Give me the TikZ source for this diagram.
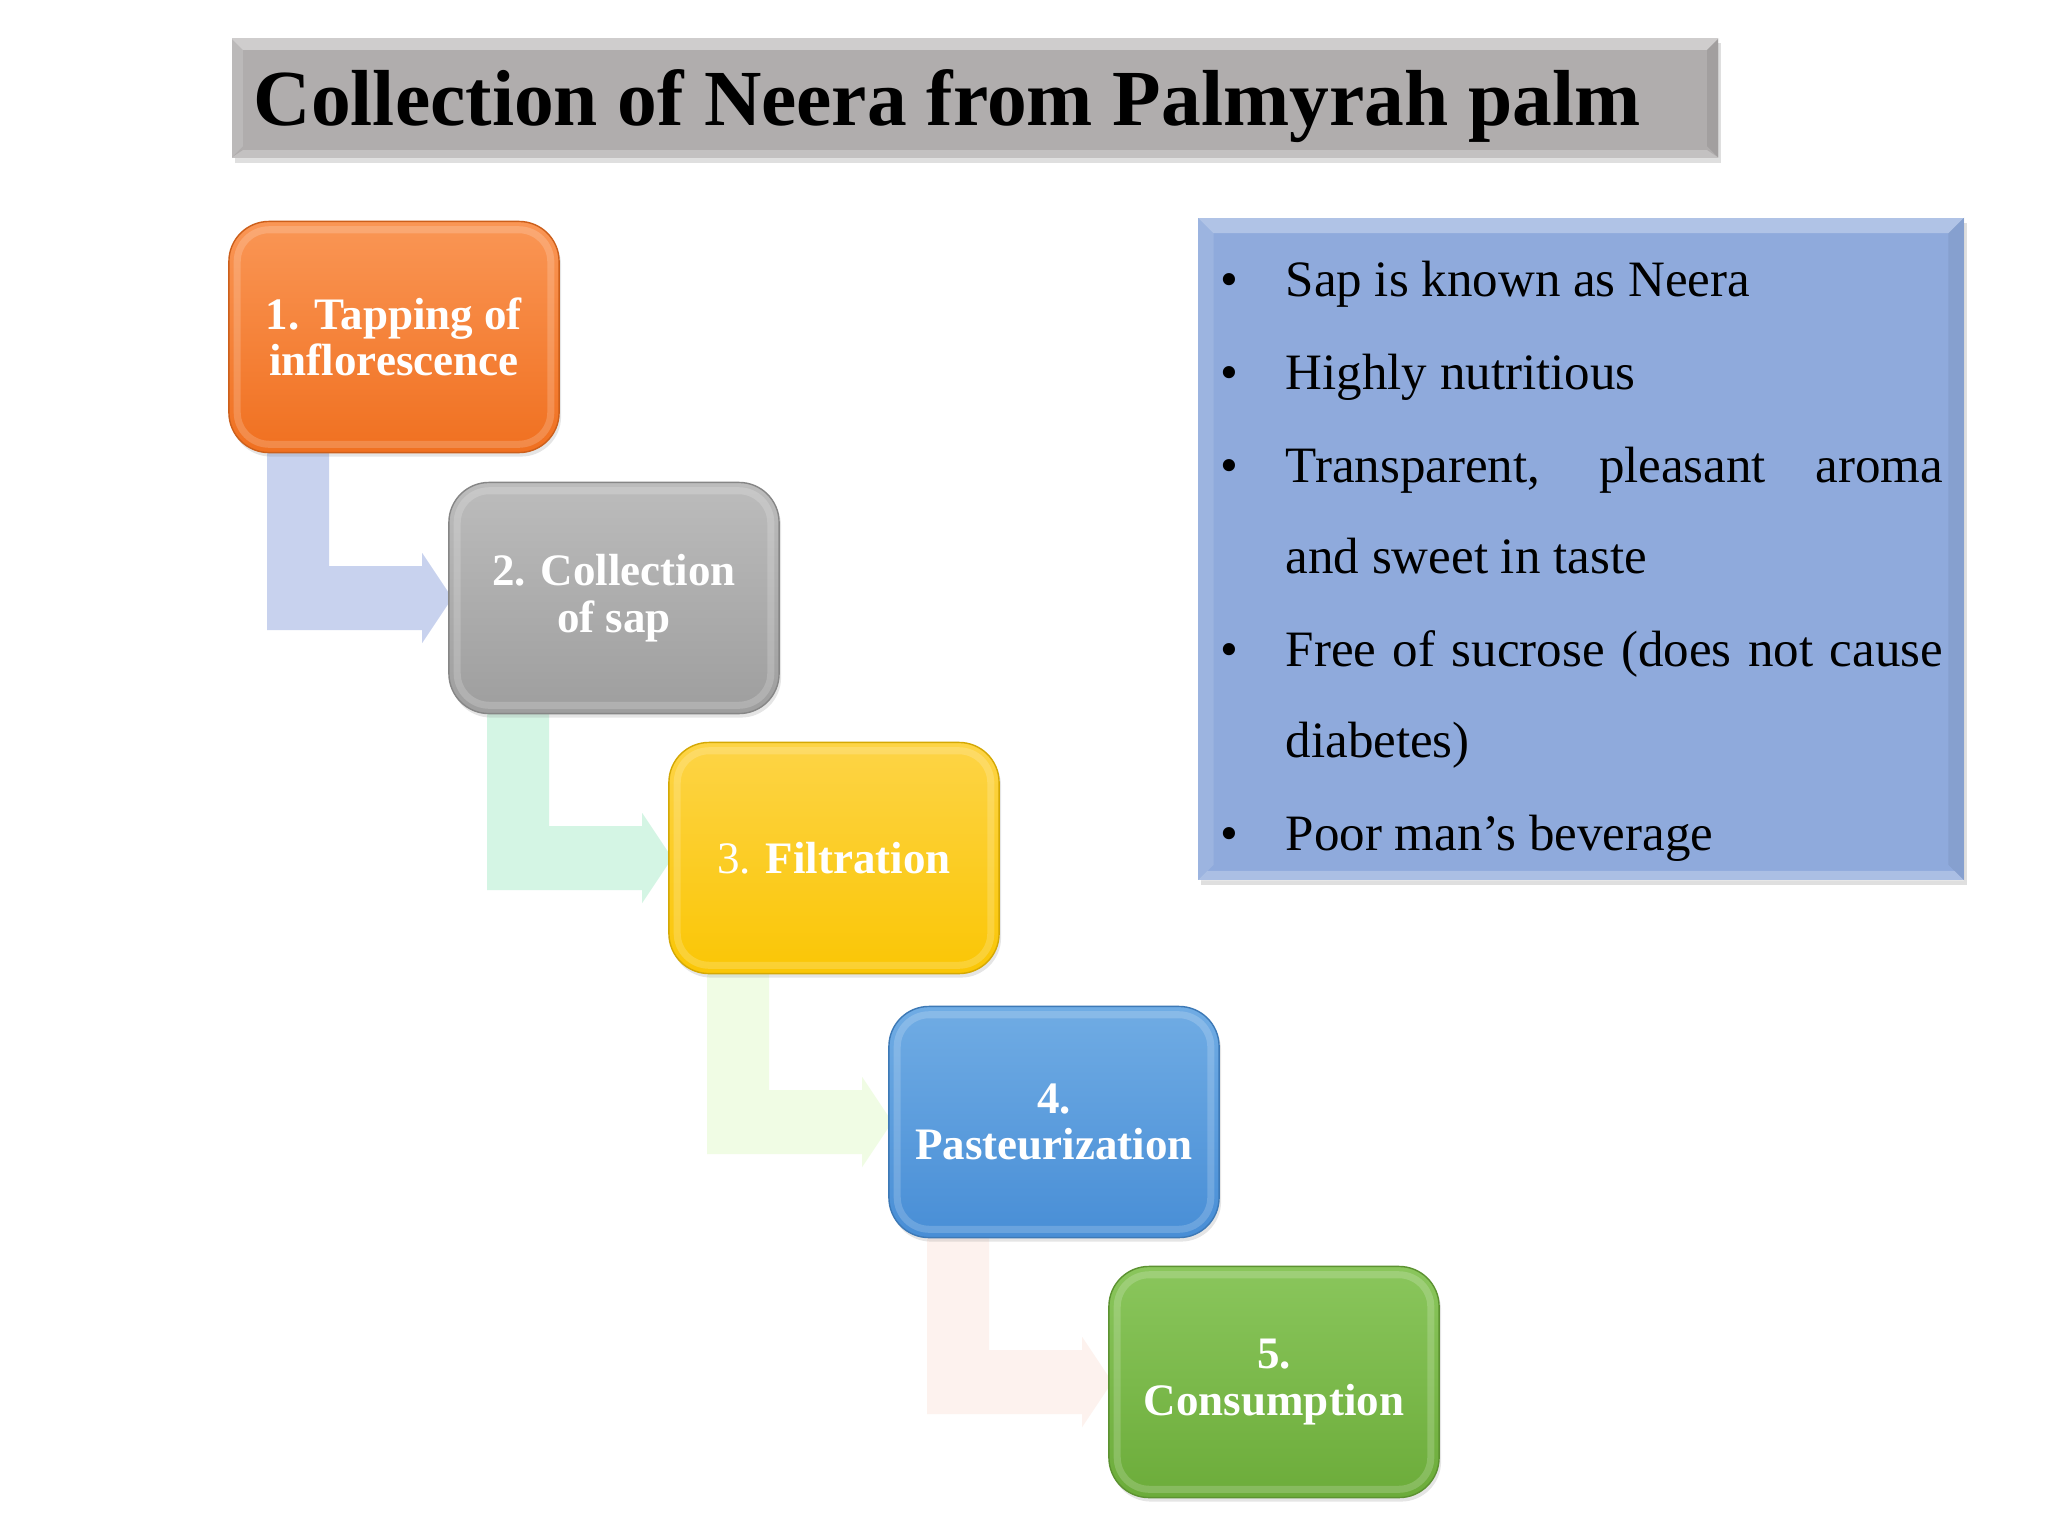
\documentclass[tikz,border=0pt]{standalone}
\usepackage{fontspec}
\setmainfont{Liberation Serif}
\usepackage{tikz}
\usetikzlibrary{positioning}
\usetikzlibrary{calc}
\usetikzlibrary{shadows}
\usetikzlibrary{backgrounds}
\definecolor{orangetop}{RGB}{250,150,85}
\definecolor{orangebot}{RGB}{240,112,32}
\definecolor{graytop}{RGB}{188,188,188}
\definecolor{graybot}{RGB}{158,158,158}
\definecolor{yellowtop}{RGB}{253,212,70}
\definecolor{yellowbot}{RGB}{250,198,5}
\definecolor{bluetop}{RGB}{112,172,228}
\definecolor{bluebot}{RGB}{72,142,214}
\definecolor{greentop}{RGB}{138,198,92}
\definecolor{greenbot}{RGB}{108,172,58}
\definecolor{arrow-a}{RGB}{200,210,238}
\definecolor{arrow-b}{RGB}{212,245,228}
\definecolor{arrow-c}{RGB}{240,252,228}
\definecolor{arrow-d}{RGB}{253,242,238}
\definecolor{title-gray}{RGB}{176,173,173}
\definecolor{fact-blue}{RGB}{143,170,220}

\begin{document}
\begin{tikzpicture}[x=0.01cm, y=-0.01cm,
stepbox/.style={rounded corners=0.4cm, minimum width=3.3cm, minimum height=2.31cm, inner sep=0pt, align=center,
  text=white, font=\fontsize{12.8}{13.2}\selectfont\bfseries, top color=#1top, bottom color=#1bot,
  draw=#1bot!85!black, line width=0.4pt, drop shadow={opacity=0.2, shadow xshift=0.02cm, shadow yshift=-0.04cm}},
bevelbox/.style={inner sep=0pt, fill=#1, drop shadow={opacity=0.25, shadow xshift=0.03cm, shadow yshift=-0.05cm}},
factline/.style={anchor=base west, inner sep=0pt, font=\fontsize{14.5}{16}\selectfont},
bulletmark/.style={anchor=base, inner sep=0pt, font=\fontsize{14.5}{16}\selectfont}]
\useasboundingbox (0,0) rectangle (2048,1536);

% title
\node [bevelbox=title-gray, minimum width=14.86cm, minimum height=1.19cm] (title) at (975,98) {};
\fill[white, opacity=0.4] (title.north west) -- (title.north east) -- ($(title.north east)+(-12,12)$) -- ($(title.north west)+(12,12)$) -- cycle;
\fill[white, opacity=0.15] (title.north west) -- ($(title.north west)+(12,12)$) -- ($(title.south west)+(12,-12)$) -- (title.south west) -- cycle;
\fill[black, opacity=0.08] (title.north east) -- ($(title.north east)+(-12,12)$) -- ($(title.south east)+(-12,-12)$) -- (title.south east) -- cycle;
\fill[white, opacity=0.25] (title.south west) -- (title.south east) -- ($(title.south east)+(-12,-8)$) -- ($(title.south west)+(12,-8)$) -- cycle;
\node [anchor=base west, inner sep=0pt, font=\fontsize{22.6}{24}\selectfont\bfseries] (titletext) at (253,125) {Collection of Neera from Palmyrah palm};

% steps
\node [stepbox=orange] (s1) at (394,337) {1. Tapping of\\inflorescence};
\node [stepbox=gray] (s2) at (614,598) {2. Collection\\of sap};
\node [stepbox=yellow] (s3) at (834,858) {{\mdseries 3.} Filtration};
\node [stepbox=blue] (s4) at (1054,1122) {4.\\Pasteurization};
\node [stepbox=green] (s5) at (1274,1382) {5.\\Consumption};

% glossy rims
\foreach \n in {s1,s2,s3,s4,s5}
  \draw[white, opacity=0.18, line width=2pt, rounded corners=0.32cm] ($(\n.south west)+(9,-9)$) rectangle ($(\n.north east)+(-9,9)$);

% bent arrows
\begin{scope}[on background layer]
\fill[white] (0,0) rectangle (2048,1536);
\foreach \a/\b/\c in {s1/s2/arrow-a, s2/s3/arrow-b, s3/s4/arrow-c, s4/s5/arrow-d}
  \fill[\c] ($(\a.south west)+(39,-5)$) -- ($(\a.south west)+(101,-5)$) |- ($(\b.west)+(-26,-32)$) -- ($(\b.west)+(-26,-45)$)
    -- ($(\b.west)+(4,0)$) -- ($(\b.west)+(-26,45)$) -- ($(\b.west)+(-26,32)$) -| ($(\a.south west)+(39,-5)$) -- cycle;
\end{scope}

% facts
\node [bevelbox=fact-blue, minimum width=7.65cm, minimum height=6.62cm] (facts) at (1581,549) {};
\fill[white, opacity=0.3] (facts.north west) -- (facts.north east) -- ($(facts.north east)+(-16,16)$) -- ($(facts.north west)+(16,16)$) -- cycle;
\fill[white, opacity=0.12] (facts.north west) -- ($(facts.north west)+(16,16)$) -- ($(facts.south west)+(16,-16)$) -- (facts.south west) -- cycle;
\fill[black, opacity=0.06] (facts.north east) -- ($(facts.north east)+(-16,16)$) -- ($(facts.south east)+(-16,-16)$) -- (facts.south east) -- cycle;
\fill[white, opacity=0.25] (facts.south west) -- (facts.south east) -- ($(facts.south east)+(-10,-10)$) -- ($(facts.south west)+(10,-10)$) -- cycle;

\foreach \n/\y in {1/296, 2/389, 3/482, 4/666, 5/850}
  \node [bulletmark] (b\n) at (1229,\y) {\textbullet};

\node [factline] (f1) at (1285,296) {Sap is known as Neera};
\node [factline] (f2) at (1285,389) {Highly nutritious};
\node [factline] (f3) at (1285,482) {\makebox[6.57cm][s]{Transparent, pleasant aroma}};
\node [factline] (f4) at (1285,573) {and sweet in taste};
\node [factline] (f5) at (1285,666) {\makebox[6.57cm][s]{Free of sucrose (does not cause}};
\node [factline] (f6) at (1285,757) {diabetes)};
\node [factline] (f7) at (1285,850) {Poor man’s beverage};
\end{tikzpicture}
\end{document}
